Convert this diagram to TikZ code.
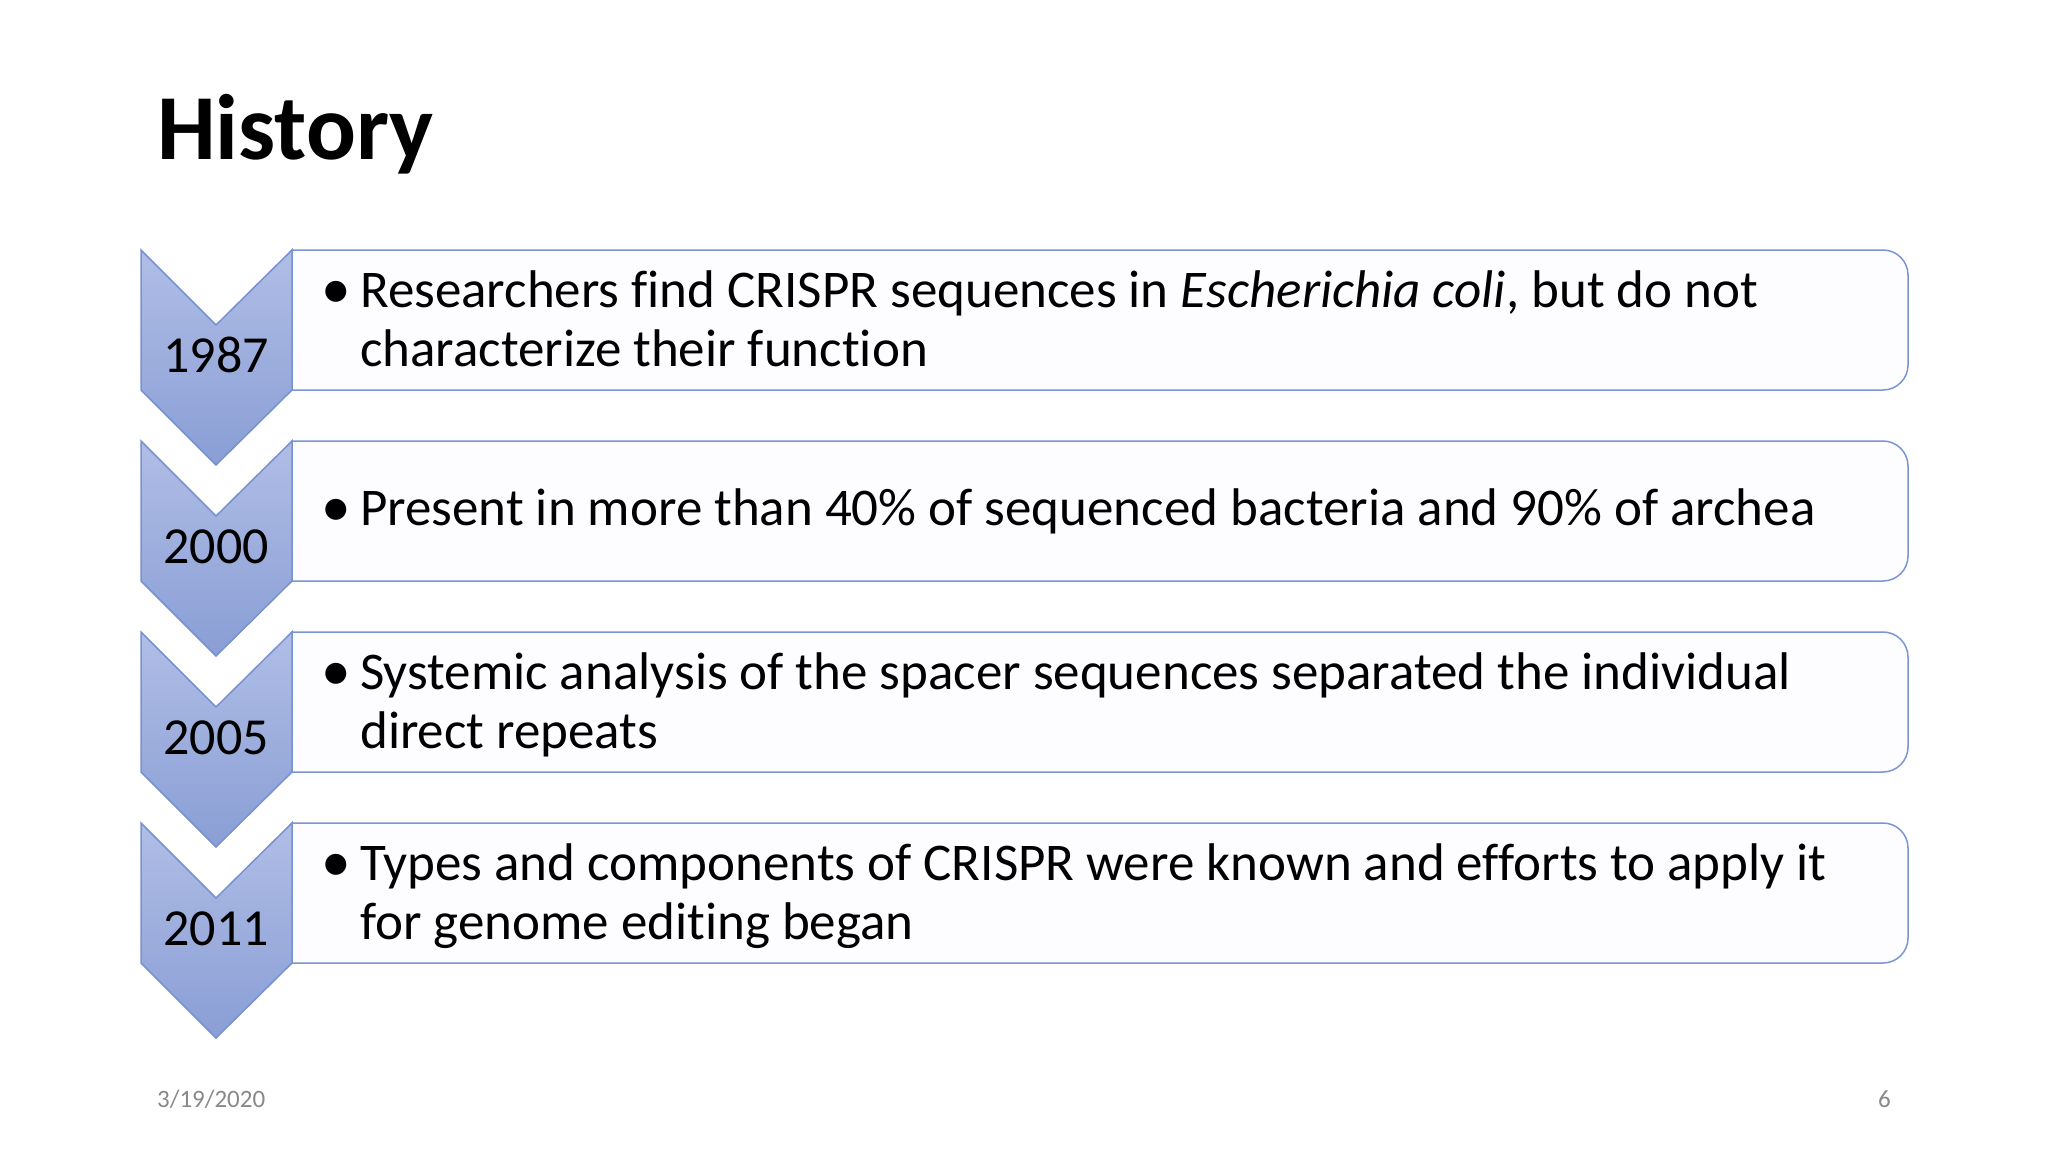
\documentclass[tikz,border=0pt]{standalone}
\usepackage{fontspec}
\setmainfont[Ligatures=CommonOff]{Carlito}
\usepackage{xcolor}
\usetikzlibrary{positioning}
\definecolor{chevtop}{RGB}{176,190,230}
\definecolor{chevbot}{RGB}{138,158,213}
\definecolor{chevline}{RGB}{120,145,210}
\definecolor{boxline}{RGB}{122,148,212}
\definecolor{boxfill}{RGB}{253,253,255}
\definecolor{footgrey}{RGB}{137,137,137}
\tikzset{
  chevron/.style={draw=chevline, line width=1.5pt, line join=miter, top color=chevtop, bottom color=chevbot},
  entrybox/.style={draw=boxline, line width=1.5pt, fill=boxfill},
  year/.style={anchor=base, inner sep=0pt, font=\fontsize{52}{59}\selectfont},
  entry/.style={anchor=west, inner sep=0pt, font=\fontsize{53}{59}\selectfont},
  foot/.style={inner sep=0pt, text=footgrey, font=\fontsize{25}{30}\selectfont}
}
\newcommand{\bul}{\raisebox{-0.02em}{\scalebox{1.12}{\textbullet}}}
\newcommand{\entrytext}[2]{\begin{tabular}{@{}p{39pt}@{}l@{}}\bul & #1\\ & #2\end{tabular}}
\newcommand{\entryline}[1]{\begin{tabular}{@{}p{39pt}@{}l@{}}\bul & #1\end{tabular}}
\begin{document}
\begin{tikzpicture}[x=1pt,y=-1pt]
  \useasboundingbox[fill=white] (0,0) rectangle (2048,1152);
  \node[anchor=base west, inner sep=0pt, font=\fontsize{93}{110}\selectfont\bfseries] (title) at (157,159) {History};

  \path[entrybox] (292,250) [rounded corners=25pt] -- (1908,250) -- (1908,390) [sharp corners] -- (292,390) -- cycle;
  \path[chevron] (141,250) -- (216,325) -- (292,250) -- (292,390) -- (216,465) -- (141,390) -- cycle;
  \node[year] (y1987) at (216,372) {1987};
  \node[entry] (e1987) at (321,325) {\entrytext{Researchers find CRISPR sequences in \textit{Escherichia coli}, but do not}{characterize their function}};

  \path[entrybox] (292,441) [rounded corners=25pt] -- (1908,441) -- (1908,581) [sharp corners] -- (292,581) -- cycle;
  \path[chevron] (141,441) -- (216,516) -- (292,441) -- (292,581) -- (216,656) -- (141,581) -- cycle;
  \node[year] (y2000) at (216,563) {2000};
  \node[entry] (e2000) at (321,514) {\entryline{Present in more than 40\% of sequenced bacteria and 90\% of archea}};

  \path[entrybox] (292,632) [rounded corners=25pt] -- (1908,632) -- (1908,772) [sharp corners] -- (292,772) -- cycle;
  \path[chevron] (141,632) -- (216,707) -- (292,632) -- (292,772) -- (216,847) -- (141,772) -- cycle;
  \node[year] (y2005) at (216,754) {2005};
  \node[entry] (e2005) at (321,707) {\entrytext{Systemic analysis of the spacer sequences separated the individual}{direct repeats}};

  \path[entrybox] (292,823) [rounded corners=25pt] -- (1908,823) -- (1908,963) [sharp corners] -- (292,963) -- cycle;
  \path[chevron] (141,823) -- (216,898) -- (292,823) -- (292,963) -- (216,1038) -- (141,963) -- cycle;
  \node[year] (y2011) at (216,945) {2011};
  \node[entry] (e2011) at (321,898) {\entrytext{Types and components of CRISPR were known and efforts to apply it}{for genome editing began}};

  \node[foot, anchor=base west] (date) at (157,1107) {3/19/2020};
  \node[foot, anchor=base east] (page) at (1891,1107) {6};
\end{tikzpicture}
\end{document}
